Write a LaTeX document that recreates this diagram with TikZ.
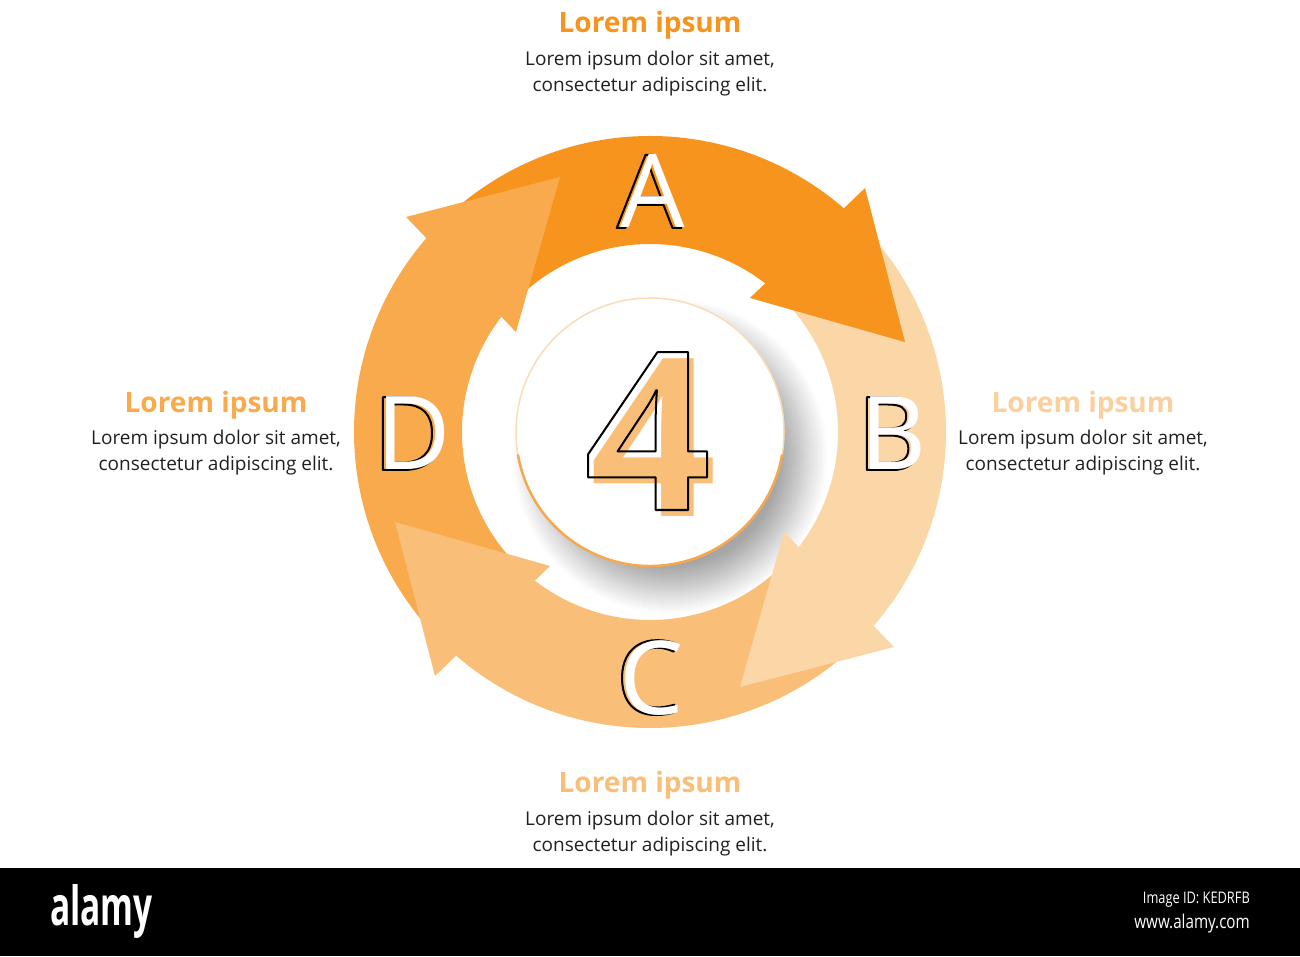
\documentclass[tikz,border=0pt]{standalone}
\usepackage{fontspec}
\setmainfont{Open Sans}
\usetikzlibrary{shadows.blur}
\definecolor{arrA}{rgb}{0.969,0.580,0.114}
\definecolor{arrB}{rgb}{0.984,0.839,0.651}
\definecolor{arrC}{rgb}{0.976,0.745,0.471}
\definecolor{arrD}{rgb}{0.973,0.667,0.298}
\definecolor{ttlB}{rgb}{0.984,0.816,0.620}
\definecolor{rimL}{rgb}{0.980,0.863,0.725}
\definecolor{rimD}{rgb}{0.961,0.659,0.314}
\definecolor{ink}{rgb}{0.137,0.122,0.125}
% stroked (hollow) glyphs
\newcommand\hollow[1]{\special{pdf:literal direct 1 Tr 2 w}#1\special{pdf:literal direct 0 Tr}}

\begin{document}
\begin{tikzpicture}[line cap=round,line join=round,x=1pt,y=1pt,
  ttl/.style={font=\fontsize{28}{28}\selectfont\bfseries,anchor=base,inner sep=0pt},
  txt/.style={font=\fontsize{19}{26}\selectfont,align=center,anchor=base,inner sep=0pt,text=ink},
  letter/.style={font=\fontsize{102}{102}\selectfont,anchor=base,inner sep=0pt},
  digit/.style={font=\fontsize{221}{221}\selectfont\bfseries,anchor=base,inner sep=0pt}]
\useasboundingbox (0,0) rectangle (1300,956);
% center disk
\fill[white,blur shadow={shadow xshift=20pt,shadow yshift=-24pt,shadow blur radius=24pt,shadow opacity=35,shadow blur steps=25}] (650,524) circle (134);
\draw[color=rimL,line width=1.5pt] (650,524) circle (134);
\draw[color=rimD,line width=2.5pt] (650,524) ++(190:134) arc[start angle=190,end angle=350,radius=134];
% ring bodies
\begin{scope}[shift={(650,524)}]
\fill[color=arrA] (137:296) arc[start angle=137,end angle=46,radius=296] -- (46:188) arc[start angle=46,end angle=137,radius=188] -- cycle;
\fill[color=arrB] (47:296) arc[start angle=47,end angle=-44,radius=296] -- (-44:188) arc[start angle=-44,end angle=47,radius=188] -- cycle;
\fill[color=arrC] (-43:296) arc[start angle=-43,end angle=-134,radius=296] -- (-134:188) arc[start angle=-134,end angle=-43,radius=188] -- cycle;
\fill[color=arrD] (-133:296) arc[start angle=-133,end angle=-224,radius=296] -- (-224:188) arc[start angle=-224,end angle=-133,radius=188] -- cycle;
% heads
\fill[color=arrA] (48.6:325.2) -- (19.44:270.4) -- (53.3:167.2) -- cycle;
\fill[color=arrB] (-41.4:325.2) -- (-70.56:270.4) -- (-36.7:167.2) -- cycle;
\fill[color=arrC] (-131.4:325.2) -- (-160.56:270.4) -- (-126.7:167.2) -- cycle;
\fill[color=arrD] (138.6:325.2) -- (109.44:270.4) -- (143.3:167.2) -- cycle;
\end{scope}
% letters
\node[letter,text=black] (olA) at (649,728) {\hollow{A}};
\node[letter,text=white] (lA) at (653,728) {A};
\node[letter,text=black] (olB) at (890,486) {\hollow{B}};
\node[letter,text=white] (lB) at (894,486) {B};
\node[letter,text=black] (olC) at (648,242) {\hollow{C}};
\node[letter,text=white] (lC) at (652,242) {C};
\node[letter,text=black] (olD) at (410,486) {\hollow{D}};
\node[letter,text=white] (lD) at (414,486) {D};
% the number
\node[digit,text=arrC] (numfill) at (654,439) {4};
\node[digit,text=black] (num) at (647.5,446) {\hollow{4}};
% texts
\node[ttl,text=arrA] (ttlA) at (650,923) {Lorem ipsum};
\node[txt] (txtA) at (650,864) {Lorem ipsum dolor sit amet,\\consectetur adipiscing elit.};
\node[ttl,text=ttlB] (ttlB) at (1083,543) {Lorem ipsum};
\node[txt] (txtB) at (1083,485) {Lorem ipsum dolor sit amet,\\consectetur adipiscing elit.};
\node[ttl,text=arrC] (ttlC) at (650,164) {Lorem ipsum};
\node[txt] (txtC) at (650,105) {Lorem ipsum dolor sit amet,\\consectetur adipiscing elit.};
\node[ttl,text=arrD] (ttlD) at (216,543) {Lorem ipsum};
\node[txt] (txtD) at (216,485) {Lorem ipsum dolor sit amet,\\consectetur adipiscing elit.};
% bottom bar
\fill[color=black] (0,0) rectangle (1300,88);
\node[anchor=base west,inner sep=0pt,text=white] (logo) at (50,31) {\scalebox{0.62}[1]{\fontsize{54}{54}\selectfont\bfseries alamy}};
\node[anchor=base east,inner sep=0pt,text=white] (imgid) at (1250,53) {\scalebox{0.8}[1]{\fontsize{16}{16}\selectfont Image ID: KEDRFB}};
\node[anchor=base east,inner sep=0pt,text=white] (site) at (1250,28) {\scalebox{0.8}[1]{\fontsize{19}{19}\selectfont www.alamy.com}};
\end{tikzpicture}
\end{document}
